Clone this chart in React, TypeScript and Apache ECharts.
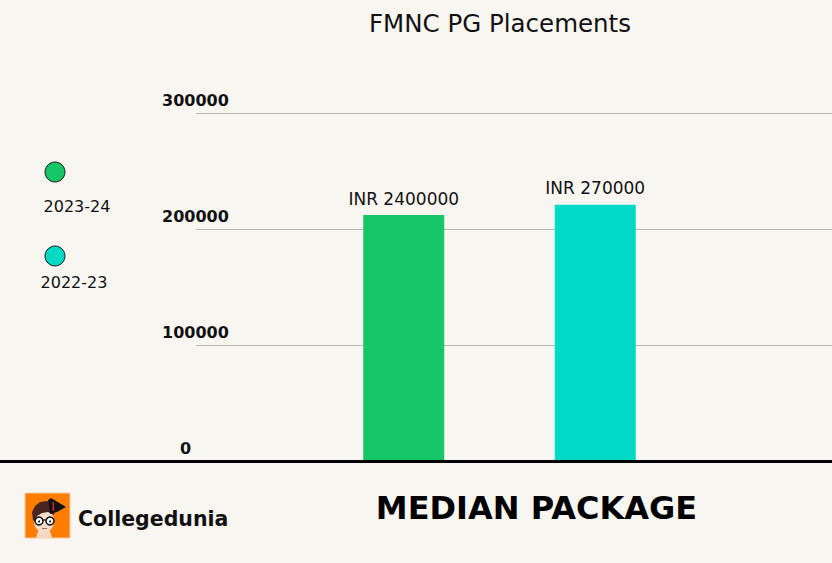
import React, { useEffect, useRef } from "react";
import * as echarts from "echarts";

const categories = ["2023-24", "2022-23"];
const medianPackage = [212000, 221000];
const barLabels = ["INR 2400000", "INR 270000"];
const yMax = 300000;
const yInterval = 100000;
const colors = ["#15c666", "#00d9c6"];
const chartTitle = "FMNC PG Placements";
const axisTitle = "MEDIAN PACKAGE";
const brand = "Collegedunia";

export default function App() {
  const ref = useRef<HTMLDivElement>(null);

  useEffect(() => {
    if (!ref.current) return;
    const chart = echarts.init(ref.current, undefined, { renderer: "svg" });
    const option: any = {
      animation: false,
      backgroundColor: "#f9f6f1",
      title: {
        text: chartTitle,
        left: 495,
        top: 6,
        textAlign: "center",
        textStyle: {
          fontFamily: "DejaVu Sans",
          fontSize: 24.5,
          fontWeight: "normal",
          color: "#111",
        },
      },
      grid: [
        { left: 196, right: 0, top: 113, bottom: 102 },
        { left: 308, right: 141, top: 113, bottom: 102 },
      ],
      xAxis: [
        { gridIndex: 0, type: "category", data: [""], show: false },
        {
          gridIndex: 1,
          type: "category",
          data: categories,
          axisLine: { show: false },
          axisTick: { show: false },
          axisLabel: { show: false },
        },
      ],
      yAxis: [
        {
          gridIndex: 0,
          type: "value",
          min: 0,
          max: yMax,
          interval: yInterval,
          axisLine: { show: false },
          axisTick: { show: false },
          splitLine: { lineStyle: { color: "#b8b6b2", width: 1 } },
          axisLabel: {
            margin: 34,
            align: "left",
            verticalAlign: "bottom",
            padding: [0, 0, 5, 0],
            fontFamily: "DejaVu Sans",
            fontWeight: "bold",
            fontSize: 16,
            color: "#111",
            formatter: (v: number) => (v === 0 ? "{z|0}" : "{n|" + v + "}"),
            rich: {
              n: { fontFamily: "DejaVu Sans", fontWeight: "bold", fontSize: 16, color: "#111" },
              z: {
                fontFamily: "DejaVu Sans",
                fontWeight: "bold",
                fontSize: 16,
                color: "#111",
                padding: [0, 0, 0, 18],
              },
            },
          },
        },
        { gridIndex: 1, type: "value", min: 0, max: yMax, show: false },
      ],
      series: [
        {
          type: "bar",
          xAxisIndex: 1,
          yAxisIndex: 1,
          barWidth: 81,
          data: medianPackage.map((v, i) => ({
            value: v,
            itemStyle: { color: colors[i] },
          })),
          label: {
            show: true,
            position: "top",
            distance: 8,
            fontFamily: "DejaVu Sans",
            fontSize: 17,
            color: "#111",
            formatter: (p: any) => barLabels[p.dataIndex],
          },
        },
      ],
      graphic: [
        {
          type: "line",
          shape: { x1: 0, y1: 461.5, x2: 832, y2: 461.5 },
          style: { stroke: "#000", lineWidth: 3 },
          z: 100,
        },
        // legend
        {
          type: "circle",
          shape: { cx: 55, cy: 172, r: 10 },
          style: { fill: colors[0], stroke: "#1a1a1a", lineWidth: 1 },
        },
        {
          type: "text",
          x: 77,
          y: 206,
          style: {
            text: categories[0],
            fontFamily: "DejaVu Sans",
            fontSize: 16,
            fill: "#111",
            textAlign: "center",
            textVerticalAlign: "middle",
          },
        },
        {
          type: "circle",
          shape: { cx: 55, cy: 256, r: 10 },
          style: { fill: colors[1], stroke: "#1a1a1a", lineWidth: 1 },
        },
        {
          type: "text",
          x: 74,
          y: 282,
          style: {
            text: categories[1],
            fontFamily: "DejaVu Sans",
            fontSize: 16,
            fill: "#111",
            textAlign: "center",
            textVerticalAlign: "middle",
          },
        },
        // bottom axis title
        {
          type: "text",
          x: 536.5,
          y: 508,
          style: {
            text: axisTitle,
            fontFamily: "DejaVu Sans",
            fontWeight: "bold",
            fontSize: 32,
            fill: "#000",
            textAlign: "center",
            textVerticalAlign: "middle",
          },
        },
        // logo
        {
          type: "group",
          children: [
            { type: "rect", shape: { x: 25, y: 493, width: 45, height: 45 }, style: { fill: "#ff7e00" } },
            { type: "rect", shape: { x: 25, y: 493, width: 45, height: 45 }, style: { fill: "none", stroke: "#f7c9a0", lineWidth: 1 } },
            // neck / collar
            { type: "polygon", shape: { points: [[38, 531], [50, 531], [52, 538], [36, 538]] }, style: { fill: "#f3d8c4" } },
            // face
            { type: "ellipse", shape: { cx: 44, cy: 521, rx: 10, ry: 11.5 }, style: { fill: "#f5dccb" } },
            // hair
            {
              type: "polygon",
              shape: {
                points: [
                  [33, 520], [32, 512], [35, 506], [40, 502], [47, 501], [53, 504],
                  [55, 510], [54, 515], [48, 512], [42, 513], [37, 516], [35, 522],
                ],
              },
              style: { fill: "#4a2420" },
            },
            // cap
            { type: "polygon", shape: { points: [[48, 500], [51, 498], [66, 507], [57, 512], [50, 514]] }, style: { fill: "#111" } },
            { type: "line", shape: { x1: 53, y1: 502, x2: 53.5, y2: 511 }, style: { stroke: "#e0242a", lineWidth: 1.5 } },
            // glasses
            { type: "circle", shape: { cx: 39, cy: 521, r: 4 }, style: { fill: "#fff", stroke: "#111", lineWidth: 1.5 } },
            { type: "circle", shape: { cx: 50, cy: 521, r: 4 }, style: { fill: "#fff", stroke: "#111", lineWidth: 1.5 } },
            { type: "line", shape: { x1: 43, y1: 520, x2: 46, y2: 520 }, style: { stroke: "#111", lineWidth: 1.2 } },
            { type: "circle", shape: { cx: 39, cy: 521.5, r: 1 }, style: { fill: "#111" } },
            { type: "circle", shape: { cx: 50, cy: 521.5, r: 1 }, style: { fill: "#111" } },
            // mouth
            { type: "line", shape: { x1: 42, y1: 528.5, x2: 47, y2: 528.5 }, style: { stroke: "#b06a5a", lineWidth: 1 } },
          ],
        },
        {
          type: "text",
          x: 78,
          y: 519,
          style: {
            text: brand,
            fontFamily: "DejaVu Sans",
            fontWeight: "bold",
            fontSize: 20.5,
            fill: "#111",
            textAlign: "left",
            textVerticalAlign: "middle",
          },
        },
      ],
    };
    chart.setOption(option);
    return () => chart.dispose();
  }, []);

  return (
    <div
      ref={ref}
      style={{ position: "fixed", left: 0, top: 0, width: 832, height: 563 }}
    />
  );
}
